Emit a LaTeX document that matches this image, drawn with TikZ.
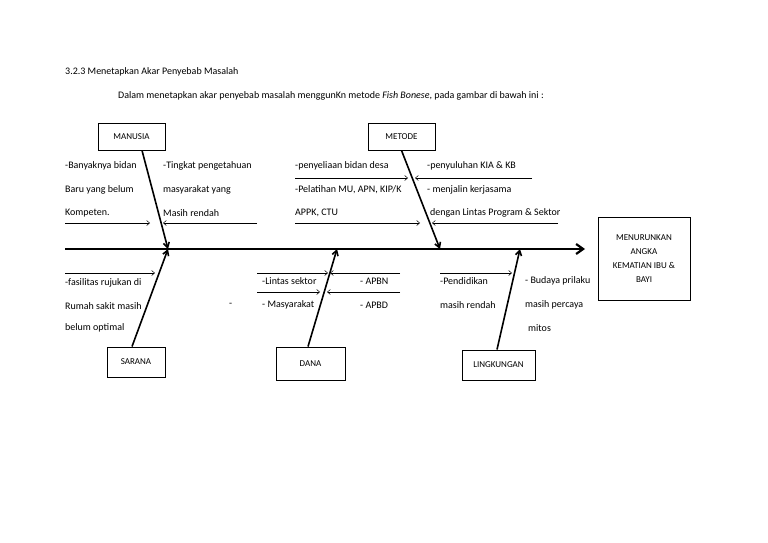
\documentclass[tikz,border=0pt]{standalone}
\usepackage{fontspec}
\setmainfont{Carlito}
\usetikzlibrary{arrows.meta}
\begin{document}
\begin{tikzpicture}[x=1pt,y=-1pt,
  lbl/.style={anchor=west,inner sep=0pt,font=\fontsize{10}{12}\selectfont},
  box/.style={draw,line width=0.9pt,inner sep=0pt,font=\fontsize{9}{14}\selectfont,align=center},
  bone/.style={line width=1.6pt,-{Straight Barb[length=5pt,width=6pt]}},
  sm/.style={line width=0.5pt,-{Straight Barb[length=3pt,width=5pt]}}]
\useasboundingbox (0,0) rectangle (768,543);
\node[lbl] (t1) at (65,72) {3.2.3 Menetapkan Akar Penyebab Masalah};
\node[lbl] (t2) at (118,96) {Dalam menetapkan akar penyebab masalah menggunKn metode \textit{Fish Bonese}, pada gambar di bawah ini :};
% boxes
\node[box,minimum width=67pt,minimum height=27pt] (man) at (131.5,136.5) {MANUSIA};
\node[box,minimum width=67pt,minimum height=27pt] (met) at (401.5,136.5) {METODE};
\node[box,minimum width=58pt,minimum height=30pt] (sar) at (136,362) {SARANA};
\node[box,minimum width=69pt,minimum height=33pt] (dan) at (310.5,363.5) {DANA};
\node[box,minimum width=73pt,minimum height=30pt] (lin) at (498.5,365) {LINGKUNGAN};
\node[box,minimum width=92pt,minimum height=83pt] (eff) at (644,258.5) {MENURUNKAN\\ANGKA\\KEMATIAN IBU \&\\BAYI};
% spine
\coordinate (s0) at (65,249);
\coordinate (s1) at (585,249);
\draw[line width=2.2pt,-{Straight Barb[length=7pt,width=10pt]}] (s0) -- (s1);
\coordinate (jm) at (168,249);
\coordinate (jt) at (440,249);
\coordinate (js) at (168,249);
\coordinate (jd) at (337,249);
\coordinate (jl) at (520,249);
\draw[bone] (man.south -| 142,0) -- (jm);
\draw[bone] (met.south) -- (jt);
\draw[bone] (sar.north -| 132,0) -- (js);
\draw[bone] (dan.north -| 308,0) -- (jd);
\draw[bone] (lin.north -| 497,0) -- (jl);
% small arrows
\foreach \a/\b/\y in {65/150/223, 257/163/223, 295/408/178, 532/415/178, 295/420/223, 558/432/223,
  65/155/273, 257/328/273, 400/330/273, 257/320/292, 400/327/292, 440/512/273}
  {\coordinate (p) at (\a,\y); \coordinate (q) at (\b,\y); \draw[sm] (p) -- (q);}
% texts
\node[lbl] (a1) at (65,166) {-Banyaknya bidan};
\node[lbl] (a2) at (65,190) {Baru  yang belum};
\node[lbl] (a3) at (65,213) {Kompeten.};
\node[lbl] (b1) at (163,166) {-Tingkat pengetahuan};
\node[lbl] (b2) at (163,190) {masyarakat yang};
\node[lbl] (b3) at (163,213) {Masih rendah};
\node[lbl] (c1) at (295,166) {-penyeliaan bidan desa};
\node[lbl] (c2) at (295,190) {-Pelatihan MU, APN, KIP/K};
\node[lbl] (c3) at (295,213) {APPK, CTU};
\node[lbl] (d1) at (427,166) {-penyuluhan KIA \& KB};
\node[lbl] (d2) at (427,190) {- menjalin kerjasama};
\node[lbl] (d3) at (430,213) {dengan Lintas Program \& Sektor};
\node[lbl] (e1) at (65,283) {-fasilitas rujukan di};
\node[lbl] (e2) at (65,306) {Rumah sakit masih};
\node[lbl] (e3) at (65,328) {belum optimal};
\node[lbl] (e4) at (229,305) {-};
\node[lbl] (f1) at (262,281) {-Lintas sektor};
\node[lbl] (f2) at (262,305) {- Masyarakat};
\node[lbl] (g1) at (360,281) {- APBN};
\node[lbl] (g2) at (360,305) {- APBD};
\node[lbl] (h1) at (440,281) {-Pendidikan};
\node[lbl] (h2) at (440,305) {masih rendah};
\node[lbl] (i1) at (525,281) {- Budaya prilaku};
\node[lbl] (i2) at (525,305) {masih percaya};
\node[lbl] (i3) at (528,328) {mitos};
\end{tikzpicture}
\end{document}
